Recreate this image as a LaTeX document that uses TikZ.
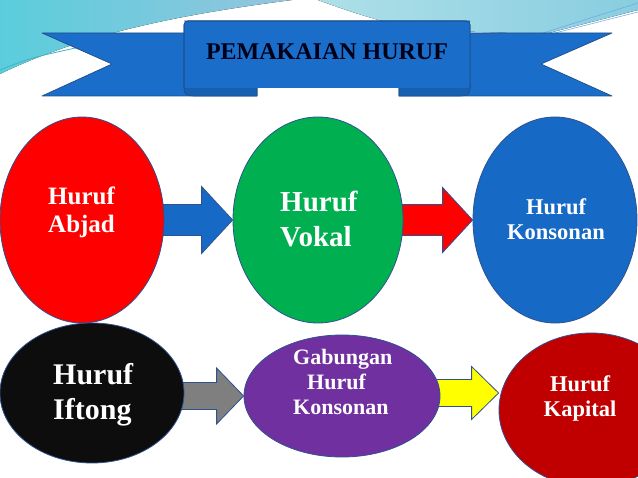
\documentclass[tikz,border=0pt]{standalone}
\usepackage{fontspec}
\setmainfont{Liberation Serif}
\usetikzlibrary{shapes.geometric,calc}
\pgfdeclarelayer{bg}
\pgfsetlayers{bg,main}
\definecolor{edgeblue}{HTML}{2F528F}
\definecolor{ribbon}{HTML}{1A6DC9}
\definecolor{ribbonedge}{HTML}{1F4E8C}
\definecolor{ribbonfold}{HTML}{1560B0}
\definecolor{cyanA}{HTML}{5ACDDC}
\definecolor{blueA}{HTML}{95C5DE}
\definecolor{cyanB}{HTML}{AEE0E8}
\definecolor{blueB}{HTML}{88CDE0}
\definecolor{cRed}{HTML}{FF0000}
\definecolor{cGreen}{HTML}{00B050}
\definecolor{cBlue}{HTML}{1769C6}
\definecolor{cBlack}{HTML}{0D0D0D}
\definecolor{cPurple}{HTML}{7030A0}
\definecolor{cDark}{HTML}{C00000}
\definecolor{cGray}{HTML}{7F7F7F}
\definecolor{cYellow}{HTML}{FFFF00}
\newcommand\blkarrow[6]{%
  \draw[draw=edgeblue, line width=0.8pt, fill=#6]
    let \p1=(#1), \p2=(#2) in
    (\x1,\y1+#3pt) -- (\x2-#5pt,\y1+#3pt) -- (\x2-#5pt,\y1+#4pt) --
    (\x2,\y1) -- (\x2-#5pt,\y1-#4pt) -- (\x2-#5pt,\y1-#3pt) --
    (\x1,\y1-#3pt) -- cycle;}
\begin{document}
\begin{tikzpicture}[x=1pt,y=-1pt,
  ell/.style={ellipse, draw=edgeblue, line width=0.8pt, inner sep=0pt},
  txt/.style={text=white, font=\bfseries\fontsize{#1}{#1}\selectfont, inner sep=0pt},
  ttl/.style={text=black!90!blue, font=\bfseries\fontsize{24}{24}\selectfont, inner sep=0pt},
  band/.style={fill=ribbon, draw=ribbonedge, line width=0.7pt, line join=round},
  fold/.style={fill=ribbonfold, draw=ribbonedge, line width=0.7pt, line join=round}
]
\clip (0,0) rectangle (638,478);
\useasboundingbox (0,0) rectangle (638,478);
\begin{pgfonlayer}{bg}
\fill[white] (0,0) rectangle (638,478);
\fill[left color=cyanA, right color=blueA] (0,0) -- (292,0)
   .. controls (200,12) and (90,30) .. (0,74) -- cycle;
\draw[cyanA!70!teal, line width=0.8pt] (0,70) .. controls (30,58) .. (80,47);
\fill[left color=cyanB, right color=blueB] (318,0)
   .. controls (345,10) and (380,22) .. (420,30) -- (545,34) -- (638,10) -- (638,0) -- cycle;
\draw[blueB!80!blue, line width=0.5pt] (540,34) -- (638,3);
\draw[blueB!80!blue, line width=0.5pt] (555,33) -- (638,12);
\end{pgfonlayer}

% ribbon
\draw[band] (42,33) -- (257,33) -- (257,96) -- (42,96) -- (112,64) -- cycle;
\draw[band] (399,33) -- (612,33) -- (541,64) -- (612,96) -- (399,96) -- cycle;
\draw[fold] (257,84) -- (192,84) .. controls (186,84) and (184,88) .. (184,90)
   .. controls (184,94) and (188,96) .. (194,96) -- (257,96) -- cycle;
\draw[fold] (399,84) -- (470,84) -- (470,90) .. controls (470,94) and (466,96) .. (460,96) -- (399,96) -- cycle;
\draw[band, rounded corners=4pt] (184,88) -- (184,21) -- (470,21) -- (470,88);
\fill[ribbon] (184.5,21.5) rectangle (469.5,86);
\draw[ribbonedge, line width=0.7pt] (184,21) [rounded corners=4pt] -- (470,21) -- (470,88);
\draw[ribbonedge, line width=0.7pt, rounded corners=4pt] (470,21) -- (184,21) -- (184,88);
\node[ttl, anchor=base] (title) at (327,60) {PEMAKAIAN HURUF};

% ellipses
\node[ell, fill=cRed, minimum width=164pt, minimum height=206pt] (abjad) at (82,220) {};
\node[ell, fill=cGreen, minimum width=170pt, minimum height=206pt] (vokal) at (318,220) {};
\node[ell, fill=cBlue, minimum width=164pt, minimum height=206pt] (kons) at (555,220) {};
\node[ell, fill=cBlack, minimum width=184pt, minimum height=140pt] (iftong) at (92,393) {};
\node[ell, fill=cPurple, minimum width=196pt, minimum height=122pt] (gab) at (342,396) {};
\node[ell, fill=cDark, minimum width=184pt, minimum height=154pt] (kap) at (591,410) {};

% arrows
\begin{pgfonlayer}{bg}
\blkarrow{[xshift=-6pt]abjad.east}{vokal.west}{15.5}{33.5}{31}{cBlue}
\blkarrow{[xshift=-6pt]vokal.east}{kons.west}{15.5}{32.5}{30}{cRed}
\blkarrow{[xshift=-6pt,yshift=-3pt]iftong.east}{gab.west}{13.5}{28}{27}{cGray}
\blkarrow{[xshift=-6pt,yshift=3pt]gab.east}{kap.west}{13.5}{26.5}{27}{cYellow}
\end{pgfonlayer}

% texts
\node[txt=25, anchor=base west] (t1a) at (48,205) {Huruf};
\node[txt=25, anchor=base west] (t1b) at (48,233) {Abjad};
\node[txt=29, anchor=base west] (t2a) at (280,212) {Huruf};
\node[txt=29, anchor=base west] (t2b) at (280,247) {Vokal};
\node[txt=22.5, anchor=base] (t3a) at (556,215) {Huruf};
\node[txt=22.5, anchor=base] (t3b) at (556,240) {Konsonan};
\node[txt=30, anchor=base west] (t4a) at (53,385) {Huruf};
\node[txt=30, anchor=base west] (t4b) at (53,420) {Iftong};
\node[txt=22, anchor=base west] (t5a) at (293,365) {Gabungan};
\node[txt=22, anchor=base west] (t5b) at (307,390) {Huruf};
\node[txt=22, anchor=base west] (t5c) at (293,415) {Konsonan};
\node[txt=22.5, anchor=base] (t6a) at (580,392) {Huruf};
\node[txt=22.5, anchor=base] (t6b) at (580,417) {Kapital};
\end{tikzpicture}
\end{document}
